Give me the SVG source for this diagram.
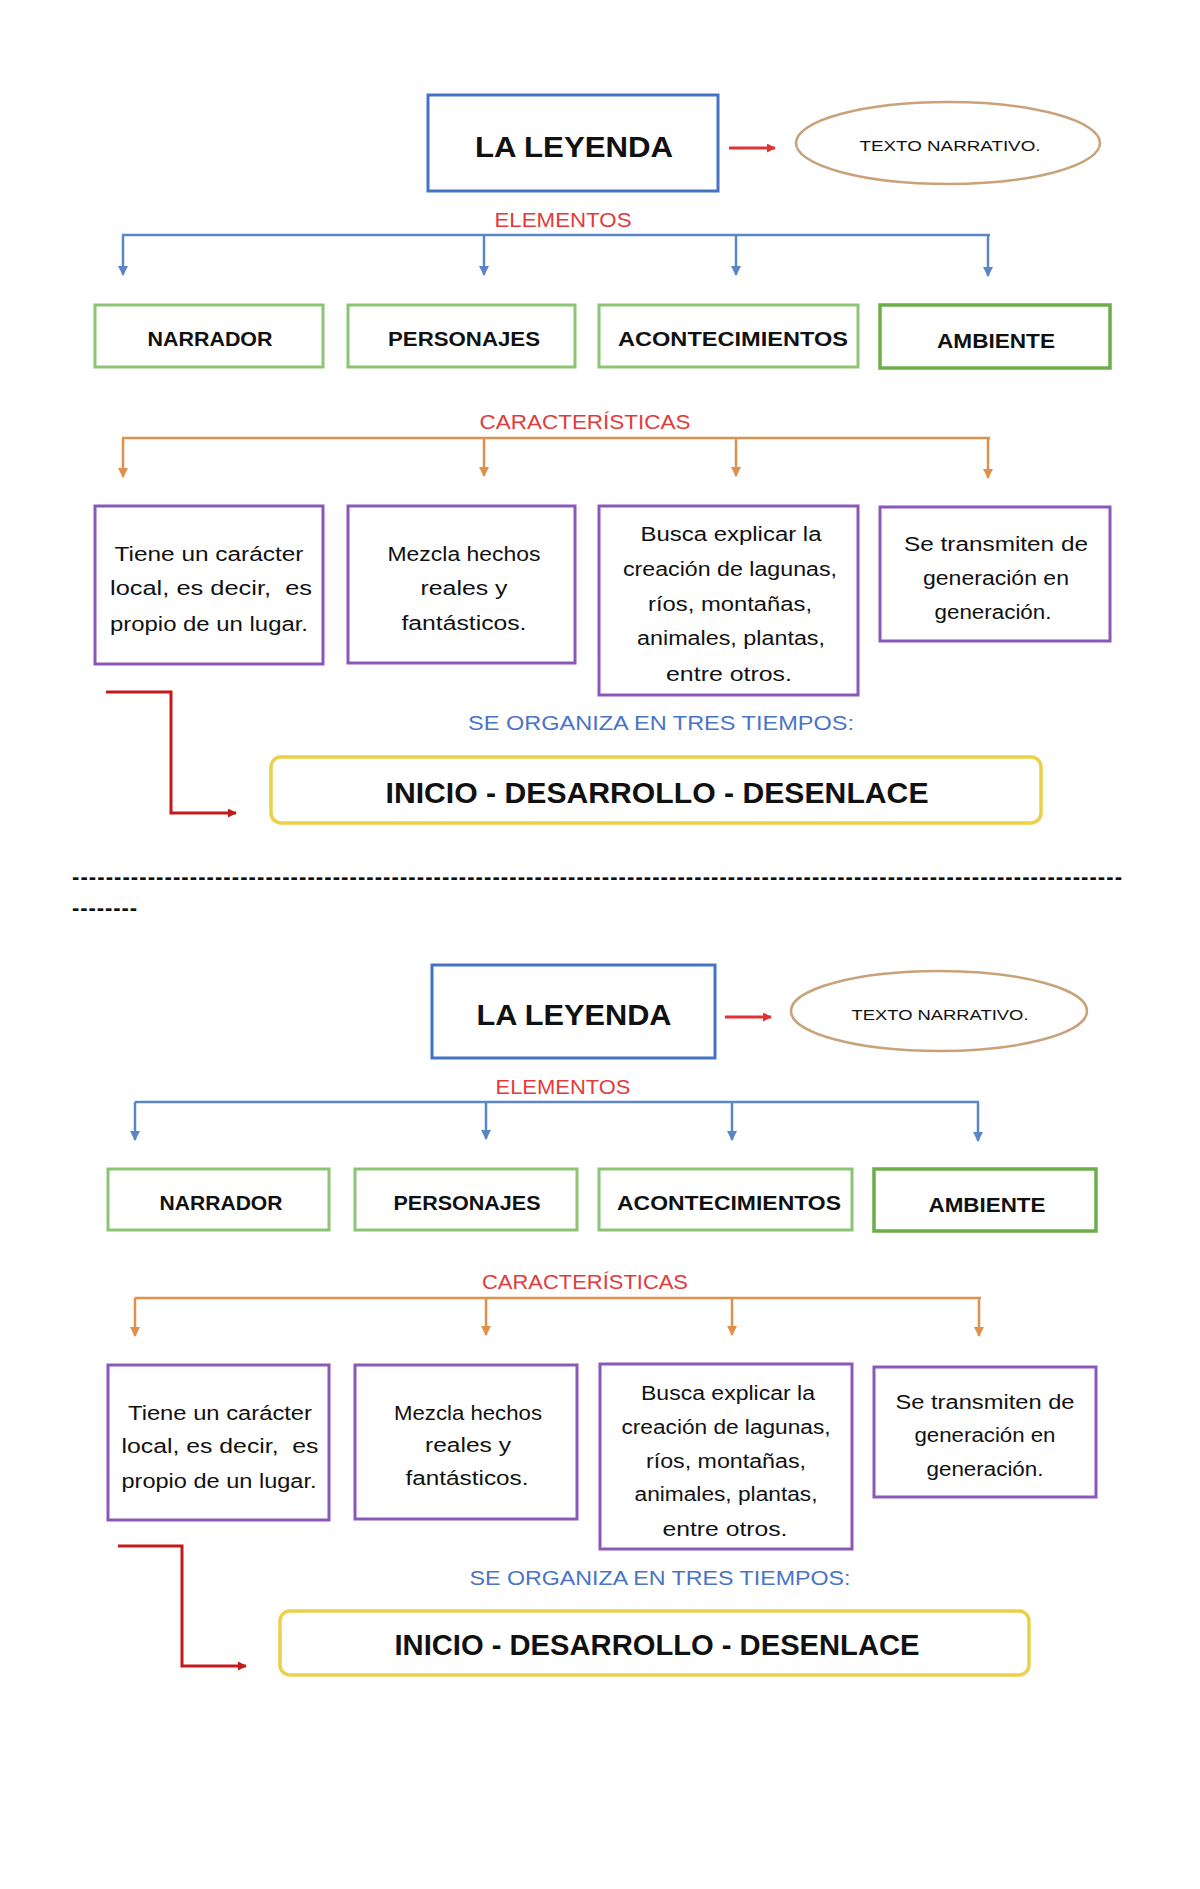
<svg xmlns="http://www.w3.org/2000/svg" width="1200" height="1889" viewBox="0 0 1200 1889">
<style>
  text { font-family: "Liberation Sans", "DejaVu Sans", sans-serif; fill: #111; }
  .c { text-anchor: middle; dominant-baseline: central; }
  .title { font-size: 30px; font-weight: bold; }
  .oval { font-size: 15px; }
  .head { font-size: 20px; fill: #E23B3B; }
  .elem { font-size: 21px; font-weight: bold; }
  .body { font-size: 20px; white-space: pre; }
  .org { font-size: 20px; fill: #4A74C6; }
  .big { font-size: 29px; font-weight: bold; }
  .dash { font-size: 22px; font-weight: bold; }
  .bluebox { fill: #fff; stroke: #4472C4; stroke-width: 3; }
  .ellipse { fill: #fff; stroke: #C9A27A; stroke-width: 2.5; }
  .green { fill: #fff; stroke: #8CC474; stroke-width: 3; }
  .green2 { fill: #fff; stroke: #6AAE4A; stroke-width: 3.5; }
  .purple { fill: #fff; stroke: #8A58B8; stroke-width: 3; }
  .yellow { fill: #fff; stroke: #EBD04A; stroke-width: 3.5; }
  .bl { fill: none; stroke: #5B86C6; stroke-width: 2.5; }
  .or { fill: none; stroke: #E0904A; stroke-width: 2.5; }
  .rd { fill: none; stroke: #E03434; stroke-width: 3; }
  .drd { fill: none; stroke: #C41A1A; stroke-width: 3; }
</style>
<defs>
  <marker id="ab" viewBox="0 0 10 10" refX="9" refY="5" markerWidth="4" markerHeight="4" orient="auto"><path d="M0,0 L10,5 L0,10 z" fill="#5B86C6"/></marker>
  <marker id="ao" viewBox="0 0 10 10" refX="9" refY="5" markerWidth="4" markerHeight="4" orient="auto"><path d="M0,0 L10,5 L0,10 z" fill="#E0904A"/></marker>
  <marker id="ar" viewBox="0 0 10 10" refX="9" refY="5" markerWidth="3" markerHeight="3" orient="auto"><path d="M0,0 L10,5 L0,10 z" fill="#E03434"/></marker>
  <marker id="adr" viewBox="0 0 10 10" refX="9" refY="5" markerWidth="3" markerHeight="3" orient="auto"><path d="M0,0 L10,5 L0,10 z" fill="#C41A1A"/></marker>
</defs>
<rect width="1200" height="1889" fill="#fff"/>

<!-- ===== TOP SECTION ===== -->
<g id="connectors-top">
  <line class="rd" x1="729" y1="148" x2="775" y2="148" marker-end="url(#ar)"/>
  <path class="bl" d="M122,235 H990"/>
  <path class="bl" d="M123,235 V275" marker-end="url(#ab)"/>
  <path class="bl" d="M484,235 V275" marker-end="url(#ab)"/>
  <path class="bl" d="M736,235 V275" marker-end="url(#ab)"/>
  <path class="bl" d="M988,235 V276" marker-end="url(#ab)"/>
  <path class="or" d="M122,438 H990"/>
  <path class="or" d="M123,438 V477" marker-end="url(#ao)"/>
  <path class="or" d="M484,438 V476" marker-end="url(#ao)"/>
  <path class="or" d="M736,438 V476" marker-end="url(#ao)"/>
  <path class="or" d="M988,438 V478" marker-end="url(#ao)"/>
  <path class="drd" d="M106,692 H171 V813 H236" marker-end="url(#adr)"/>
</g>

<g id="t-leyenda"><rect class="bluebox" x="428" y="95" width="290" height="96"/><text class="c title" x="574" y="146" textLength="198" lengthAdjust="spacingAndGlyphs">LA LEYENDA</text></g>
<g id="t-texto"><ellipse class="ellipse" cx="948" cy="143" rx="152" ry="41"/><text class="c oval" x="950" y="145" textLength="181" lengthAdjust="spacingAndGlyphs">TEXTO NARRATIVO.</text></g>
<g id="t-elementos"><text class="c head" x="563" y="220" textLength="137" lengthAdjust="spacingAndGlyphs">ELEMENTOS</text></g>

<g id="t-narrador"><rect class="green" x="95" y="305" width="228" height="62"/><text class="c elem" x="210" y="338" textLength="125" lengthAdjust="spacingAndGlyphs">NARRADOR</text></g>
<g id="t-personajes"><rect class="green" x="348" y="305" width="227" height="62"/><text class="c elem" x="464" y="338" textLength="152" lengthAdjust="spacingAndGlyphs">PERSONAJES</text></g>
<g id="t-acontecimientos"><rect class="green" x="599" y="305" width="259" height="62"/><text class="c elem" x="733" y="338" textLength="230" lengthAdjust="spacingAndGlyphs">ACONTECIMIENTOS</text></g>
<g id="t-ambiente"><rect class="green2" x="880" y="305" width="230" height="63"/><text class="c elem" x="996" y="340" textLength="118" lengthAdjust="spacingAndGlyphs">AMBIENTE</text></g>

<g id="t-caracteristicas"><text class="c head" x="585" y="422" textLength="211" lengthAdjust="spacingAndGlyphs">CARACTERÍSTICAS</text></g>

<g id="t-local"><rect class="purple" x="95" y="506" width="228" height="158"/>
  <text class="c body" x="209" y="554" textLength="189" lengthAdjust="spacingAndGlyphs">Tiene un carácter</text>
  <text class="c body" x="211" y="588" textLength="202" lengthAdjust="spacingAndGlyphs">local, es decir,  es</text>
  <text class="c body" x="209" y="624" textLength="198" lengthAdjust="spacingAndGlyphs">propio de un lugar.</text></g>
<g id="t-mezcla"><rect class="purple" x="348" y="506" width="227" height="157"/>
  <text class="c body" x="464" y="554" textLength="153" lengthAdjust="spacingAndGlyphs">Mezcla hechos</text>
  <text class="c body" x="464" y="588" textLength="87" lengthAdjust="spacingAndGlyphs">reales y</text>
  <text class="c body" x="464" y="623" textLength="125" lengthAdjust="spacingAndGlyphs">fantásticos.</text></g>
<g id="t-busca"><rect class="purple" x="599" y="506" width="259" height="189"/>
  <text class="c body" x="731" y="534" textLength="181" lengthAdjust="spacingAndGlyphs">Busca explicar la</text>
  <text class="c body" x="730" y="569" textLength="214" lengthAdjust="spacingAndGlyphs">creación de lagunas,</text>
  <text class="c body" x="730" y="604" textLength="164" lengthAdjust="spacingAndGlyphs">ríos, montañas,</text>
  <text class="c body" x="731" y="638" textLength="188" lengthAdjust="spacingAndGlyphs">animales, plantas,</text>
  <text class="c body" x="729" y="674" textLength="126" lengthAdjust="spacingAndGlyphs">entre otros.</text></g>
<g id="t-transmiten"><rect class="purple" x="880" y="507" width="230" height="134"/>
  <text class="c body" x="996" y="544" textLength="184" lengthAdjust="spacingAndGlyphs">Se transmiten de</text>
  <text class="c body" x="996" y="578" textLength="146" lengthAdjust="spacingAndGlyphs">generación en</text>
  <text class="c body" x="993" y="612" textLength="117" lengthAdjust="spacingAndGlyphs">generación.</text></g>

<g id="t-organiza"><text class="c org" x="661" y="723" textLength="386" lengthAdjust="spacingAndGlyphs">SE ORGANIZA EN TRES TIEMPOS:</text></g>
<g id="t-inicio"><rect class="yellow" x="271" y="757" width="770" height="66" rx="10"/><text class="c big" x="657" y="793" textLength="543" lengthAdjust="spacingAndGlyphs">INICIO - DESARROLLO - DESENLACE</text></g>

<!-- ===== SEPARATOR ===== -->
<g id="separator">
  <text class="dash" x="72" y="884" textLength="1050" lengthAdjust="spacing">-----------------------------------------------------------------------------------------------------------------------------</text>
  <text class="dash" x="72" y="915" textLength="65" lengthAdjust="spacing">--------</text>
</g>

<!-- ===== BOTTOM SECTION ===== -->
<g id="connectors-bottom">
  <line class="rd" x1="725" y1="1017" x2="771" y2="1017" marker-end="url(#ar)"/>
  <path class="bl" d="M135,1102 H979"/>
  <path class="bl" d="M135,1102 V1140" marker-end="url(#ab)"/>
  <path class="bl" d="M486,1102 V1139" marker-end="url(#ab)"/>
  <path class="bl" d="M732,1102 V1140" marker-end="url(#ab)"/>
  <path class="bl" d="M978,1102 V1141" marker-end="url(#ab)"/>
  <path class="or" d="M135,1298 H981"/>
  <path class="or" d="M135,1298 V1336" marker-end="url(#ao)"/>
  <path class="or" d="M486,1298 V1335" marker-end="url(#ao)"/>
  <path class="or" d="M732,1298 V1335" marker-end="url(#ao)"/>
  <path class="or" d="M979,1298 V1336" marker-end="url(#ao)"/>
  <path class="drd" d="M118,1546 H182 V1666 H246" marker-end="url(#adr)"/>
</g>

<g id="b-leyenda"><rect class="bluebox" x="432" y="965" width="283" height="93"/><text class="c title" x="574" y="1014" textLength="195" lengthAdjust="spacingAndGlyphs">LA LEYENDA</text></g>
<g id="b-texto"><ellipse class="ellipse" cx="939" cy="1011" rx="148" ry="40"/><text class="c oval" x="940" y="1014" textLength="177" lengthAdjust="spacingAndGlyphs">TEXTO NARRATIVO.</text></g>
<g id="b-elementos"><text class="c head" x="563" y="1087" textLength="135" lengthAdjust="spacingAndGlyphs">ELEMENTOS</text></g>

<g id="b-narrador"><rect class="green" x="108" y="1169" width="221" height="61"/><text class="c elem" x="221" y="1202" textLength="123" lengthAdjust="spacingAndGlyphs">NARRADOR</text></g>
<g id="b-personajes"><rect class="green" x="355" y="1169" width="222" height="61"/><text class="c elem" x="467" y="1202" textLength="147" lengthAdjust="spacingAndGlyphs">PERSONAJES</text></g>
<g id="b-acontecimientos"><rect class="green" x="599" y="1169" width="253" height="61"/><text class="c elem" x="729" y="1202" textLength="224" lengthAdjust="spacingAndGlyphs">ACONTECIMIENTOS</text></g>
<g id="b-ambiente"><rect class="green2" x="874" y="1169" width="222" height="62"/><text class="c elem" x="987" y="1204" textLength="117" lengthAdjust="spacingAndGlyphs">AMBIENTE</text></g>

<g id="b-caracteristicas"><text class="c head" x="585" y="1282" textLength="206" lengthAdjust="spacingAndGlyphs">CARACTERÍSTICAS</text></g>

<g id="b-local"><rect class="purple" x="108" y="1365" width="221" height="155"/>
  <text class="c body" x="220" y="1413" textLength="184" lengthAdjust="spacingAndGlyphs">Tiene un carácter</text>
  <text class="c body" x="220" y="1446" textLength="197" lengthAdjust="spacingAndGlyphs">local, es decir,  es</text>
  <text class="c body" x="219" y="1481" textLength="195" lengthAdjust="spacingAndGlyphs">propio de un lugar.</text></g>
<g id="b-mezcla"><rect class="purple" x="355" y="1365" width="222" height="154"/>
  <text class="c body" x="468" y="1413" textLength="148" lengthAdjust="spacingAndGlyphs">Mezcla hechos</text>
  <text class="c body" x="468" y="1445" textLength="86" lengthAdjust="spacingAndGlyphs">reales y</text>
  <text class="c body" x="467" y="1478" textLength="123" lengthAdjust="spacingAndGlyphs">fantásticos.</text></g>
<g id="b-busca"><rect class="purple" x="600" y="1364" width="252" height="185"/>
  <text class="c body" x="728" y="1393" textLength="174" lengthAdjust="spacingAndGlyphs">Busca explicar la</text>
  <text class="c body" x="726" y="1427" textLength="209" lengthAdjust="spacingAndGlyphs">creación de lagunas,</text>
  <text class="c body" x="726" y="1461" textLength="160" lengthAdjust="spacingAndGlyphs">ríos, montañas,</text>
  <text class="c body" x="726" y="1494" textLength="183" lengthAdjust="spacingAndGlyphs">animales, plantas,</text>
  <text class="c body" x="725" y="1529" textLength="125" lengthAdjust="spacingAndGlyphs">entre otros.</text></g>
<g id="b-transmiten"><rect class="purple" x="874" y="1367" width="222" height="130"/>
  <text class="c body" x="985" y="1402" textLength="179" lengthAdjust="spacingAndGlyphs">Se transmiten de</text>
  <text class="c body" x="985" y="1435" textLength="141" lengthAdjust="spacingAndGlyphs">generación en</text>
  <text class="c body" x="985" y="1469" textLength="117" lengthAdjust="spacingAndGlyphs">generación.</text></g>

<g id="b-organiza"><text class="c org" x="660" y="1578" textLength="381" lengthAdjust="spacingAndGlyphs">SE ORGANIZA EN TRES TIEMPOS:</text></g>
<g id="b-inicio"><rect class="yellow" x="280" y="1611" width="749" height="64" rx="10"/><text class="c big" x="657" y="1645" textLength="525" lengthAdjust="spacingAndGlyphs">INICIO - DESARROLLO - DESENLACE</text></g>
</svg>
